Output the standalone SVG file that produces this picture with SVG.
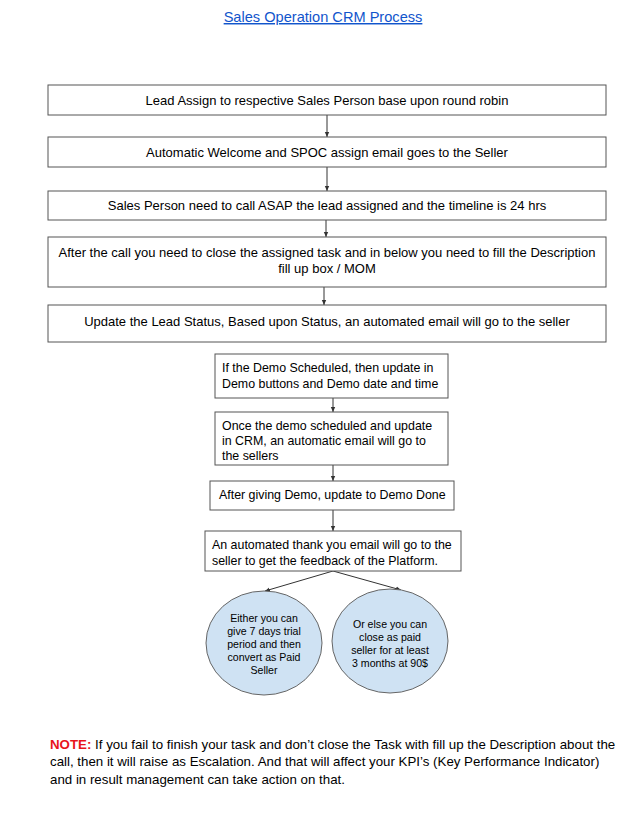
<svg xmlns="http://www.w3.org/2000/svg" width="638" height="826" viewBox="0 0 638 826">
<style>
.box{fill:#fff;stroke:#555;stroke-width:1}
.ell{fill:#cfe2f3;stroke:#666;stroke-width:1}
.t{font-family:"Liberation Sans",Arial,sans-serif;font-size:13px;fill:#000}
.sm{font-size:12.4px}
.c{text-anchor:middle}
.s{font-family:"Liberation Sans",Arial,sans-serif;font-size:10.6px;fill:#000;text-anchor:middle}
.ln{stroke:#333;stroke-width:1;fill:none;marker-end:url(#ah)}
</style>
<defs>
<marker id="ah" markerWidth="6" markerHeight="6" refX="5" refY="3" orient="auto" markerUnits="userSpaceOnUse">
<path d="M0,0.8 L5,3 L0,5.2 Z" fill="#333"/>
</marker>
</defs>
<rect width="638" height="826" fill="#fff"/>
<text id="title" x="323" y="22" class="t c" style="font-size:14.6px;fill:#1155cc;text-decoration:underline">Sales Operation CRM Process</text>

<g id="connectors">
<line class="ln" x1="327" y1="115" x2="327" y2="137"/>
<line class="ln" x1="327" y1="167" x2="327" y2="191"/>
<line class="ln" x1="326" y1="199" x2="326" y2="237"/>
<line class="ln" x1="324" y1="287" x2="324" y2="305"/>
<line class="ln" x1="333" y1="398" x2="333" y2="412"/>
<line class="ln" x1="333" y1="465" x2="333" y2="481"/>
<line class="ln" x1="333" y1="510" x2="333" y2="531"/>
<line class="ln" x1="333" y1="571" x2="265" y2="591"/>
<line class="ln" x1="333" y1="571" x2="401" y2="590"/>
</g>

<g id="n1"><rect class="box" x="48" y="85" width="558" height="30"/>
<text class="t c" x="327" y="105">Lead Assign to respective Sales Person base upon round robin</text></g>
<g id="n2"><rect class="box" x="48" y="137" width="558" height="30"/>
<text class="t c" x="327" y="157">Automatic Welcome and SPOC assign email goes to the Seller</text></g>
<g id="n3"><rect class="box" x="48" y="191" width="558" height="29"/>
<text class="t c" x="327" y="210">Sales Person need to call ASAP the lead assigned and the timeline is 24 hrs</text></g>
<g id="n4"><rect class="box" x="48" y="237" width="558" height="50"/>
<text class="t c" x="327" y="257">After the call you need to close the assigned task and in below you need to fill the Description</text>
<text class="t c" x="327" y="273">fill up box / MOM</text></g>
<g id="n5"><rect class="box" x="48" y="305" width="558" height="37"/>
<text class="t c" x="327" y="326">Update the Lead Status, Based upon Status, an automated email will go to the seller</text></g>
<g id="n6"><rect class="box" x="215" y="354" width="233" height="44"/>
<text class="t sm" x="222" y="372">If the Demo Scheduled, then update in</text>
<text class="t sm" x="222" y="388">Demo buttons and Demo date and time</text></g>
<g id="n7"><rect class="box" x="215" y="412" width="233" height="53"/>
<text class="t sm" x="222" y="430">Once the demo scheduled and update</text>
<text class="t sm" x="222" y="445">in CRM, an automatic email will go to</text>
<text class="t sm" x="222" y="460">the sellers</text></g>
<g id="n8"><rect class="box" x="210" y="481" width="244" height="29"/>
<text class="t sm" x="219" y="499">After giving Demo, update to Demo Done</text></g>
<g id="n9"><rect class="box" x="205" y="531" width="256" height="40"/>
<text class="t sm" x="212" y="549">An automated thank you email will go to the</text>
<text class="t sm" x="212" y="565">seller to get the feedback of the Platform.</text></g>
<g id="n10"><ellipse class="ell" cx="264" cy="643" rx="58" ry="52"/>
<text class="s" x="264" y="622">Either you can</text>
<text class="s" x="264" y="635">give 7 days trial</text>
<text class="s" x="264" y="648">period and then</text>
<text class="s" x="264" y="661">convert as Paid</text>
<text class="s" x="264" y="674">Seller</text></g>
<g id="n11"><ellipse class="ell" cx="390" cy="641" rx="58" ry="52"/>
<text class="s" x="390" y="628">Or else you can</text>
<text class="s" x="390" y="641">close as paid</text>
<text class="s" x="390" y="654">seller for at least</text>
<text class="s" x="390" y="667">3 months at 90$</text></g>

<g id="note">
<text class="t" x="50" y="749" style="font-size:13.3px"><tspan style="fill:#e8141b;font-weight:bold">NOTE:</tspan> If you fail to finish your task and don’t close the Task with fill up the Description about the</text>
<text class="t" x="50" y="766" style="font-size:13.3px">call, then it will raise as Escalation. And that will affect your KPI’s (Key Performance Indicator)</text>
<text class="t" x="50" y="784" style="font-size:13.3px">and in result management can take action on that.</text>
</g>
</svg>
